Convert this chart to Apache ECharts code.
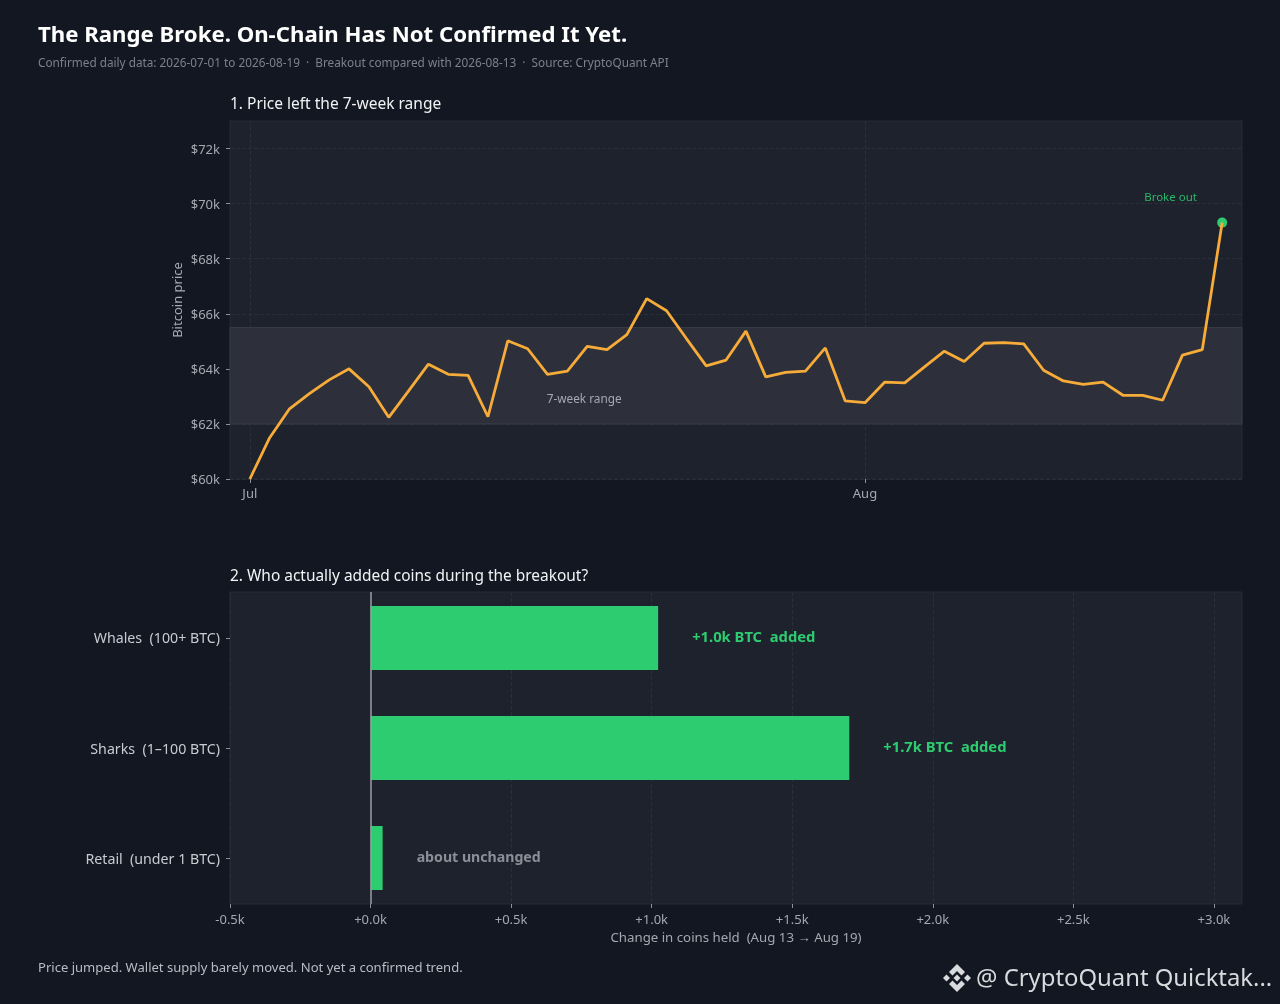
<!DOCTYPE html>
<html>
<head>
<meta charset="utf-8">
<style>html,body{margin:0;padding:0;background:#131722}#c{width:1280px;height:1004px}</style>
<script src="https://cdn.jsdelivr.net/npm/echarts@6/dist/echarts.min.js"></script>
</head>
<body>
<div id="c"></div>
<script>
const startDate = '2026-07-01';
const prices = [60.0,61.5,62.55,63.1,63.6,64.0,63.35,62.24,63.2,64.17,63.8,63.76,62.26,65.02,64.73,63.8,63.92,64.82,64.7,65.24,66.55,66.11,65.1,64.11,64.32,65.37,63.71,63.87,63.92,64.76,62.84,62.77,63.52,63.49,64.07,64.64,64.27,64.93,64.95,64.91,63.95,63.56,63.44,63.52,63.04,63.04,62.86,64.5,64.7,69.31];
const rangeBand = [62.0, 65.5];
const priceTicks = [60,62,64,66,68,70,72];
const monthTickDays = [0,31];
const monthTickLabels = ['Jul','Aug'];
const categories = ['Whales  (100+ BTC)','Sharks  (1–100 BTC)','Retail  (under 1 BTC)'];
const changes = [1.023,1.703,0.043];
const barNotes = ['+1.0k BTC  added','+1.7k BTC  added','about unchanged'];
const noteColors = ['#2ecc71','#2ecc71','#8b8f98'];
const noteSizes = [14.75,14.75,14.15];
const changeTicks = [-0.5,0,0.5,1,1.5,2,2.5,3];

const FONT = '"Noto Sans"';
const priceData = prices.map((p,i)=>[i,p]);
const last = priceData[priceData.length-1];

// y-axis bands: empty slots around each bar slot keep the panel's padding
const slots = 17, slotOf = i => 2 + i*6;
const slotCats = Array(slots).fill(''), slotVals = Array(slots).fill(null);
categories.forEach((c,i)=>{
  slotCats[slotOf(i)] = c;
  slotVals[slotOf(i)] = {value:changes[i], label:{formatter:barNotes[i], color:noteColors[i], fontSize:noteSizes[i]}};
});

const tick = {show:true,length:4,lineStyle:{color:'#8b8f98',width:1}};
const grid = {show:true,backgroundColor:'#1e222d',borderColor:'#272b36',borderWidth:1,containLabel:false};
const split = {show:true,lineStyle:{color:'#2a2e39',type:'dashed',width:1}};
const noLine = {show:false,onZero:false};

const chart = echarts.init(document.getElementById('c'),null,{renderer:'canvas'});
chart.setOption({
  backgroundColor:'#131722',
  animation:false,
  textStyle:{fontFamily:FONT},
  title:[
    {text:'The Range Broke. On-Chain Has Not Confirmed It Yet.',left:38,top:25,padding:0,textStyle:{color:'#ffffff',fontSize:22.2,fontWeight:'bold',fontFamily:FONT}},
    {text:'Confirmed daily data: 2026-07-01 to 2026-08-19  ·  Breakout compared with 2026-08-13  ·  Source: CryptoQuant API',left:38,top:58,padding:0,textStyle:{color:'#7d818b',fontSize:11.78,fontWeight:'normal',fontFamily:FONT}},
    {text:'1. Price left the 7-week range',left:230,top:97,padding:0,textStyle:{color:'#f2f3f5',fontSize:15.5,fontWeight:'normal',fontFamily:FONT}},
    {text:'2. Who actually added coins during the breakout?',left:230,top:569,padding:0,textStyle:{color:'#f2f3f5',fontSize:15.45,fontWeight:'normal',fontFamily:FONT}},
    {text:'Price jumped. Wallet supply barely moved. Not yet a confirmed trend.',left:38,top:962,padding:0,textStyle:{color:'#b9bcc3',fontSize:13.05,fontWeight:'normal',fontFamily:FONT}}
  ],
  grid:[
    Object.assign({left:230,top:121,width:1012,height:358},grid),
    Object.assign({left:230,top:592,width:1012,height:312},grid)
  ],
  xAxis:[
    {type:'value',gridIndex:0,min:-1,max:50,
     axisLine:noLine,axisTick:Object.assign({customValues:monthTickDays},tick),splitLine:split,
     axisLabel:{customValues:monthTickDays,color:'#a5a8b0',fontSize:13,margin:9,fontFamily:FONT,hideOverlap:false,
       formatter:v=>monthTickLabels[monthTickDays.indexOf(v)]}},
    {type:'value',gridIndex:1,min:-0.5,max:3.1,
     name:'Change in coins held  (Aug 13 → Aug 19)',nameLocation:'middle',nameGap:28,
     nameTextStyle:{color:'#a5a8b0',fontSize:13.25,fontFamily:FONT},
     axisLine:noLine,axisTick:Object.assign({customValues:changeTicks},tick),splitLine:split,
     axisLabel:{customValues:changeTicks,color:'#a5a8b0',fontSize:13,margin:10,fontFamily:FONT,
       formatter:v=>(v<0?'-':'+')+Math.abs(v).toFixed(1)+'k'}}
  ],
  yAxis:[
    {type:'value',gridIndex:0,min:60,max:73,
     name:'Bitcoin price',nameLocation:'middle',nameGap:45,nameRotate:90,nameMoveOverlap:false,
     nameTextStyle:{color:'#a5a8b0',fontSize:13,fontFamily:FONT},
     axisLine:noLine,axisTick:Object.assign({customValues:priceTicks},tick),
     splitLine:Object.assign({},split),
     axisLabel:{customValues:priceTicks,margin:10,fontFamily:FONT,
       formatter:v=>'{t|$'+v+'k}',
       rich:{t:{color:'#a5a8b0',fontSize:13,fontFamily:FONT,padding:[3,0,0,0]}}}},
    {type:'category',gridIndex:1,inverse:true,data:slotCats,boundaryGap:true,
     axisLine:noLine,
     axisTick:{show:true,length:4,alignWithLabel:true,interval:(i,v)=>v!=='',lineStyle:{color:'#8b8f98',width:1}},
     splitLine:{show:false},
     axisLabel:{interval:0,margin:10,fontFamily:FONT,
       formatter:v=>v?'{c|'+v+'}':'',
       rich:{c:{color:'#c9cbd1',fontSize:14.2,fontFamily:FONT,padding:[3,0,0,0]}}}}
  ],
  series:[
    {type:'line',name:'Bitcoin price',xAxisIndex:0,yAxisIndex:0,data:priceData,symbol:'none',smooth:false,z:5,
     lineStyle:{color:'#f7ac3a',width:2.8},
     markArea:{silent:true,itemStyle:{color:'#2d303b',borderColor:'#383b46',borderWidth:1},z:1,
       data:[[{yAxis:rangeBand[0]},{yAxis:rangeBand[1]}]]},
     markPoint:{silent:true,symbol:'circle',symbolSize:10,
       data:[
         {coord:last,itemStyle:{color:'#2ecc71'},label:{show:false}},
         {coord:[46.4,70.23],symbolSize:0,itemStyle:{color:'transparent'},
          label:{show:true,position:'inside',formatter:'Broke out',color:'#2bb568',fontSize:11.5,fontFamily:FONT}},
         {coord:[16.85,62.87],symbolSize:0,itemStyle:{color:'transparent'},
          label:{show:true,position:'inside',formatter:'7-week range',color:'#a5a8b0',fontSize:11.8,fontFamily:FONT}}
       ]}},
    {type:'bar',name:'Change in coins held',xAxisIndex:1,yAxisIndex:1,data:slotVals,barWidth:64,z:3,
     itemStyle:{color:'#2ecc71'},
     label:{show:true,position:'right',distance:34,fontWeight:'bold',fontFamily:FONT},
     markLine:{silent:true,symbol:'none',label:{show:false},lineStyle:{color:'#9a9da5',width:1.5,type:'solid'},z:6,
       data:[{xAxis:0}]}}
  ],
  graphic:[
    {type:'group',left:943,top:964,silent:true,children:[
      {type:'polygon',shape:{points:[[14,0],[22,8],[18.5,11.5],[14,7],[9.5,11.5],[6,8]]},style:{fill:'#d8dade'}},
      {type:'polygon',shape:{points:[[14,28],[22,20],[18.5,16.5],[14,21],[9.5,16.5],[6,20]]},style:{fill:'#d8dade'}},
      {type:'polygon',shape:{points:[[14,10.5],[17.5,14],[14,17.5],[10.5,14]]},style:{fill:'#d8dade'}},
      {type:'polygon',shape:{points:[[3.5,10.5],[7,14],[3.5,17.5],[0,14]]},style:{fill:'#d8dade'}},
      {type:'polygon',shape:{points:[[24.5,10.5],[28,14],[24.5,17.5],[21,14]]},style:{fill:'#d8dade'}}
    ]},
    {type:'text',left:976,top:967,silent:true,style:{text:'@ CryptoQuant Quicktak...',fill:'#d8dade',fontSize:23.85,fontFamily:FONT}}
  ]
});
</script>
</body>
</html>
